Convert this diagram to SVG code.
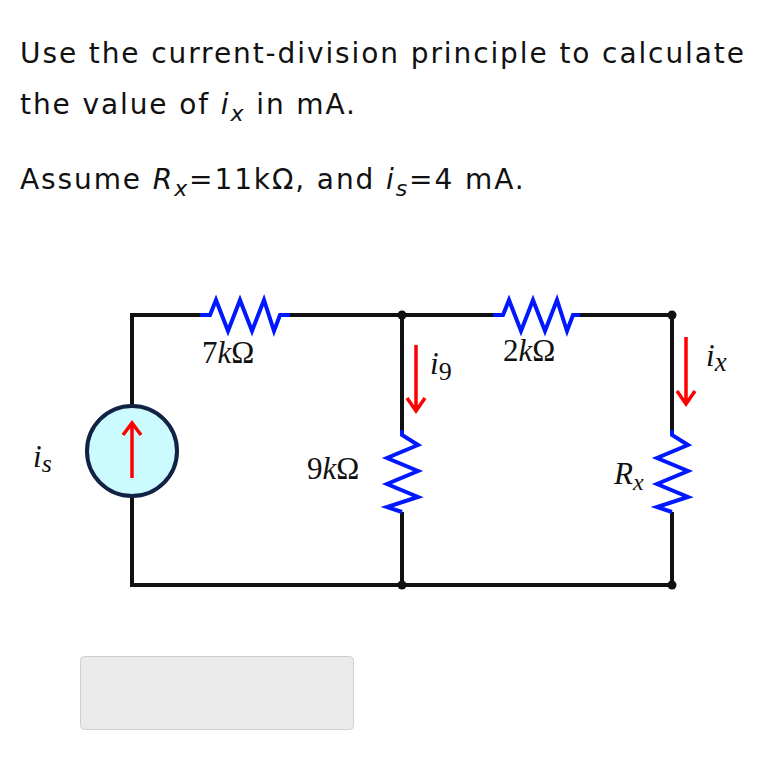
<svg xmlns="http://www.w3.org/2000/svg" width="772" height="777" viewBox="0 0 772 777">
<style>
.q{font-family:"DejaVu Sans",Verdana,sans-serif;font-size:28px;letter-spacing:1.9px;fill:#111}
.m{font-family:"Liberation Serif","DejaVu Serif",serif;font-size:31px;fill:#111}
.w{stroke:#111;stroke-width:4;fill:none}
.r{stroke:#0018ff;stroke-width:4;fill:none;stroke-linejoin:miter}
.a{stroke:#f00;stroke-width:3.5;fill:none}
</style>
<rect width="772" height="777" fill="#fff"/>
<text class="q" x="20" y="63">Use the current-division principle to calculate</text>
<text class="q" x="20" y="114">the value of <tspan font-style="italic">i</tspan><tspan font-style="italic" font-size="22" dy="7">x</tspan><tspan dy="-7"> in mA.</tspan></text>
<text class="q" x="20" y="189">Assume <tspan font-style="italic">R</tspan><tspan font-style="italic" font-size="22" dy="7">x</tspan><tspan dy="-7">=11kΩ, and </tspan><tspan font-style="italic">i</tspan><tspan font-style="italic" font-size="22" dy="7">s</tspan><tspan dy="-7">=4 mA.</tspan></text>
<g id="wires" class="w">
<path d="M132 405V315H200M290 315H493M580 315H672V430M672 512V585H132V497M402 315V430M402 512V585"/>
</g>
<g id="R7"><path class="r" d="M200 315H210L216 300L228 331L240 300L252 331L264 300L274 331L280 315H290"/>
<text class="m" x="202" y="363"><tspan>7</tspan><tspan font-style="italic">k</tspan>Ω</text></g>
<g id="R2"><path class="r" d="M493 315H503L509 300L521 331L533 300L545 331L557 300L567 331L573 315H580"/>
<text class="m" x="503" y="361"><tspan>2</tspan><tspan font-style="italic">k</tspan>Ω</text></g>
<g id="R9"><path class="r" d="M402 430V435L418 445L387 458L418 471L387 484L418 497L387 507L402 512"/>
<text class="m" x="307" y="479"><tspan>9</tspan><tspan font-style="italic">k</tspan>Ω</text></g>
<g id="Rx"><path class="r" d="M672 430V435L688 445L657 458L688 471L657 484L688 497L657 507L672 512"/>
<text class="m" x="614" y="484" font-style="italic">R<tspan font-size="24" dy="6">x</tspan></text></g>
<g id="src"><circle cx="132" cy="451" r="45" fill="#ccfbff" stroke="#112244" stroke-width="4"/>
<path class="a" d="M132 478V424M123 435L132 423L141 435"/>
<text class="m" x="33" y="467" font-style="italic" font-size="33">i<tspan font-size="26" dy="5">s</tspan></text></g>
<g id="i9"><path class="a" d="M416 345V410M407 398L416 411L425 398"/>
<text class="m" x="430" y="374" font-style="italic" font-size="33">i<tspan font-style="normal" font-size="26" dy="6">9</tspan></text></g>
<g id="ix"><path class="a" d="M686 337V403M677 391L686 404L695 391"/>
<text class="m" x="706" y="366" font-style="italic" font-size="33">i<tspan font-size="27" dy="5">x</tspan></text></g>
<g id="dots" fill="#111"><circle cx="402" cy="315" r="4.5"/><circle cx="672" cy="315" r="4.5"/><circle cx="402" cy="585" r="4.5"/><circle cx="672" cy="585" r="4.5"/></g>
<rect id="answer" x="80.5" y="656.5" width="273" height="73" rx="4" fill="#ebebeb" stroke="#cfcfcf"/>
</svg>
